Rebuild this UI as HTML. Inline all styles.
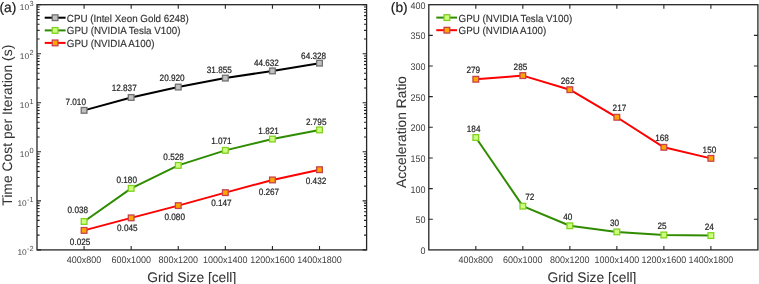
<!DOCTYPE html>
<html><head><meta charset="utf-8"><style>
html,body{margin:0;padding:0;background:#fff;width:759px;height:284px;overflow:hidden}
svg{display:block;font-family:"Liberation Sans",sans-serif;filter:blur(0.35px);text-rendering:geometricPrecision}
.dl{fill:#262626;stroke:#262626;stroke-width:0.2px}
.tk{fill:#404040}
.yt{fill:#484848}
.ax{fill:#333;stroke:#333;stroke-width:0.05px}
.lg{fill:#333;stroke:#333;stroke-width:0.15px;letter-spacing:0.0px}
.pl{fill:#1a1a1a;stroke:#1a1a1a;stroke-width:0.2px}
</style></head><body>
<svg width="759" height="284" viewBox="0 0 759 284">
<rect width="759" height="284" fill="#fff"/>
<rect x="37.0" y="4.7" width="329.60" height="245.20" fill="none" stroke="#262626" stroke-width="1.3"/>
<rect x="428.8" y="4.7" width="329.10" height="245.20" fill="none" stroke="#262626" stroke-width="1.3"/>
<path d="M84.09,249.9v-4.0M84.09,4.7v4.0M131.17,249.9v-4.0M131.17,4.7v4.0M178.26,249.9v-4.0M178.26,4.7v4.0M225.34,249.9v-4.0M225.34,4.7v4.0M272.43,249.9v-4.0M272.43,4.7v4.0M319.51,249.9v-4.0M319.51,4.7v4.0M37.0,249.90h4.0M366.6,249.90h-4.0M37.0,235.14h2.6M366.6,235.14h-2.6M37.0,226.50h2.6M366.6,226.50h-2.6M37.0,220.37h2.6M366.6,220.37h-2.6M37.0,215.62h2.6M366.6,215.62h-2.6M37.0,211.74h2.6M366.6,211.74h-2.6M37.0,208.46h2.6M366.6,208.46h-2.6M37.0,205.61h2.6M366.6,205.61h-2.6M37.0,203.10h2.6M366.6,203.10h-2.6M37.0,200.86h4.0M366.6,200.86h-4.0M37.0,186.10h2.6M366.6,186.10h-2.6M37.0,177.46h2.6M366.6,177.46h-2.6M37.0,171.33h2.6M366.6,171.33h-2.6M37.0,166.58h2.6M366.6,166.58h-2.6M37.0,162.70h2.6M366.6,162.70h-2.6M37.0,159.42h2.6M366.6,159.42h-2.6M37.0,156.57h2.6M366.6,156.57h-2.6M37.0,154.06h2.6M366.6,154.06h-2.6M37.0,151.82h4.0M366.6,151.82h-4.0M37.0,137.06h2.6M366.6,137.06h-2.6M37.0,128.42h2.6M366.6,128.42h-2.6M37.0,122.29h2.6M366.6,122.29h-2.6M37.0,117.54h2.6M366.6,117.54h-2.6M37.0,113.66h2.6M366.6,113.66h-2.6M37.0,110.38h2.6M366.6,110.38h-2.6M37.0,107.53h2.6M366.6,107.53h-2.6M37.0,105.02h2.6M366.6,105.02h-2.6M37.0,102.78h4.0M366.6,102.78h-4.0M37.0,88.02h2.6M366.6,88.02h-2.6M37.0,79.38h2.6M366.6,79.38h-2.6M37.0,73.25h2.6M366.6,73.25h-2.6M37.0,68.50h2.6M366.6,68.50h-2.6M37.0,64.62h2.6M366.6,64.62h-2.6M37.0,61.34h2.6M366.6,61.34h-2.6M37.0,58.49h2.6M366.6,58.49h-2.6M37.0,55.98h2.6M366.6,55.98h-2.6M37.0,53.74h4.0M366.6,53.74h-4.0M37.0,38.98h2.6M366.6,38.98h-2.6M37.0,30.34h2.6M366.6,30.34h-2.6M37.0,24.21h2.6M366.6,24.21h-2.6M37.0,19.46h2.6M366.6,19.46h-2.6M37.0,15.58h2.6M366.6,15.58h-2.6M37.0,12.30h2.6M366.6,12.30h-2.6M37.0,9.45h2.6M366.6,9.45h-2.6M37.0,6.94h2.6M366.6,6.94h-2.6M37.0,4.70h4.0M366.6,4.70h-4.0M475.81,249.9v-4.0M475.81,4.7v4.0M522.83,249.9v-4.0M522.83,4.7v4.0M569.84,249.9v-4.0M569.84,4.7v4.0M616.86,249.9v-4.0M616.86,4.7v4.0M663.87,249.9v-4.0M663.87,4.7v4.0M710.89,249.9v-4.0M710.89,4.7v4.0M428.8,219.25h4.0M757.9,219.25h-4.0M428.8,188.60h4.0M757.9,188.60h-4.0M428.8,157.95h4.0M757.9,157.95h-4.0M428.8,127.30h4.0M757.9,127.30h-4.0M428.8,96.65h4.0M757.9,96.65h-4.0M428.8,66.00h4.0M757.9,66.00h-4.0M428.8,35.35h4.0M757.9,35.35h-4.0" stroke="#262626" stroke-width="1.1" fill="none"/>
<text x="33.60" y="250.90" font-size="7.4" text-anchor="end" class="yt">-2</text>
<text x="26.72" y="254.70" font-size="8.4" text-anchor="end" class="yt">10</text>
<text x="33.60" y="201.86" font-size="7.4" text-anchor="end" class="yt">-1</text>
<text x="26.72" y="205.66" font-size="8.4" text-anchor="end" class="yt">10</text>
<text x="33.60" y="152.82" font-size="7.4" text-anchor="end" class="yt">0</text>
<text x="29.19" y="156.62" font-size="8.4" text-anchor="end" class="yt">10</text>
<text x="33.60" y="103.78" font-size="7.4" text-anchor="end" class="yt">1</text>
<text x="29.19" y="107.58" font-size="8.4" text-anchor="end" class="yt">10</text>
<text x="33.60" y="54.74" font-size="7.4" text-anchor="end" class="yt">2</text>
<text x="29.19" y="58.54" font-size="8.4" text-anchor="end" class="yt">10</text>
<text x="33.60" y="5.70" font-size="7.4" text-anchor="end" class="yt">3</text>
<text x="29.19" y="9.50" font-size="8.4" text-anchor="end" class="yt">10</text>
<text transform="translate(425.60,253.90) scale(1,1.06)" font-size="9.0" text-anchor="end" class="tk">0</text>
<text transform="translate(425.60,223.25) scale(1,1.06)" font-size="9.0" text-anchor="end" class="tk">50</text>
<text transform="translate(425.60,192.60) scale(1,1.06)" font-size="9.0" text-anchor="end" class="tk">100</text>
<text transform="translate(425.60,161.95) scale(1,1.06)" font-size="9.0" text-anchor="end" class="tk">150</text>
<text transform="translate(425.60,131.30) scale(1,1.06)" font-size="9.0" text-anchor="end" class="tk">200</text>
<text transform="translate(425.60,100.65) scale(1,1.06)" font-size="9.0" text-anchor="end" class="tk">250</text>
<text transform="translate(425.60,70.00) scale(1,1.06)" font-size="9.0" text-anchor="end" class="tk">300</text>
<text transform="translate(425.60,39.35) scale(1,1.06)" font-size="9.0" text-anchor="end" class="tk">350</text>
<text transform="translate(425.60,8.70) scale(1,1.06)" font-size="9.0" text-anchor="end" class="tk">400</text>
<text transform="translate(84.09,262.82) scale(1,1.06)" font-size="9.0" text-anchor="middle" class="tk">400x800</text>
<text transform="translate(475.81,262.82) scale(1,1.06)" font-size="9.0" text-anchor="middle" class="tk">400x800</text>
<text transform="translate(131.17,262.82) scale(1,1.06)" font-size="9.0" text-anchor="middle" class="tk">600x1000</text>
<text transform="translate(522.83,262.82) scale(1,1.06)" font-size="9.0" text-anchor="middle" class="tk">600x1000</text>
<text transform="translate(178.26,262.82) scale(1,1.06)" font-size="9.0" text-anchor="middle" class="tk">800x1200</text>
<text transform="translate(569.84,262.82) scale(1,1.06)" font-size="9.0" text-anchor="middle" class="tk">800x1200</text>
<text transform="translate(225.34,262.82) scale(1,1.06)" font-size="9.0" text-anchor="middle" class="tk">1000x1400</text>
<text transform="translate(616.86,262.82) scale(1,1.06)" font-size="9.0" text-anchor="middle" class="tk">1000x1400</text>
<text transform="translate(272.43,262.82) scale(1,1.06)" font-size="9.0" text-anchor="middle" class="tk">1200x1600</text>
<text transform="translate(663.87,262.82) scale(1,1.06)" font-size="9.0" text-anchor="middle" class="tk">1200x1600</text>
<text transform="translate(319.51,262.82) scale(1,1.06)" font-size="9.0" text-anchor="middle" class="tk">1400x1800</text>
<text transform="translate(710.89,262.82) scale(1,1.06)" font-size="9.0" text-anchor="middle" class="tk">1400x1800</text>
<polyline points="84.09,110.35 131.17,97.46 178.26,87.06 225.34,78.10 272.43,70.92 319.51,63.14" fill="none" stroke="#000000" stroke-width="2.0" stroke-linejoin="round"/>
<rect x="81.24" y="107.50" width="5.7" height="5.7" fill="#c0c0c0" stroke="#707070" stroke-width="1.3"/>
<rect x="128.32" y="94.61" width="5.7" height="5.7" fill="#c0c0c0" stroke="#707070" stroke-width="1.3"/>
<rect x="175.41" y="84.21" width="5.7" height="5.7" fill="#c0c0c0" stroke="#707070" stroke-width="1.3"/>
<rect x="222.49" y="75.25" width="5.7" height="5.7" fill="#c0c0c0" stroke="#707070" stroke-width="1.3"/>
<rect x="269.58" y="68.07" width="5.7" height="5.7" fill="#c0c0c0" stroke="#707070" stroke-width="1.3"/>
<rect x="316.66" y="60.29" width="5.7" height="5.7" fill="#c0c0c0" stroke="#707070" stroke-width="1.3"/>
<polyline points="84.09,221.47 131.17,188.34 178.26,165.42 225.34,150.36 272.43,139.05 319.51,129.93" fill="none" stroke="#2f8c00" stroke-width="2.0" stroke-linejoin="round"/>
<rect x="81.24" y="218.62" width="5.7" height="5.7" fill="#ccff80" stroke="#80d020" stroke-width="1.3"/>
<rect x="128.32" y="185.49" width="5.7" height="5.7" fill="#ccff80" stroke="#80d020" stroke-width="1.3"/>
<rect x="175.41" y="162.57" width="5.7" height="5.7" fill="#ccff80" stroke="#80d020" stroke-width="1.3"/>
<rect x="222.49" y="147.51" width="5.7" height="5.7" fill="#ccff80" stroke="#80d020" stroke-width="1.3"/>
<rect x="269.58" y="136.20" width="5.7" height="5.7" fill="#ccff80" stroke="#80d020" stroke-width="1.3"/>
<rect x="316.66" y="127.08" width="5.7" height="5.7" fill="#ccff80" stroke="#80d020" stroke-width="1.3"/>
<polyline points="84.09,230.39 131.17,217.87 178.26,205.61 225.34,192.65 272.43,179.94 319.51,169.70" fill="none" stroke="#ff0000" stroke-width="2.0" stroke-linejoin="round"/>
<rect x="81.24" y="227.54" width="5.7" height="5.7" fill="#ffa500" stroke="#c8424e" stroke-width="1.3"/>
<rect x="128.32" y="215.02" width="5.7" height="5.7" fill="#ffa500" stroke="#c8424e" stroke-width="1.3"/>
<rect x="175.41" y="202.76" width="5.7" height="5.7" fill="#ffa500" stroke="#c8424e" stroke-width="1.3"/>
<rect x="222.49" y="189.80" width="5.7" height="5.7" fill="#ffa500" stroke="#c8424e" stroke-width="1.3"/>
<rect x="269.58" y="177.09" width="5.7" height="5.7" fill="#ffa500" stroke="#c8424e" stroke-width="1.3"/>
<rect x="316.66" y="166.85" width="5.7" height="5.7" fill="#ffa500" stroke="#c8424e" stroke-width="1.3"/>
<polyline points="475.81,79.27 522.83,75.59 569.84,89.69 616.86,117.28 663.87,147.32 710.89,158.35" fill="none" stroke="#ff0000" stroke-width="2.0" stroke-linejoin="round"/>
<rect x="472.96" y="76.42" width="5.7" height="5.7" fill="#ffa500" stroke="#c8424e" stroke-width="1.3"/>
<rect x="519.98" y="72.75" width="5.7" height="5.7" fill="#ffa500" stroke="#c8424e" stroke-width="1.3"/>
<rect x="566.99" y="86.84" width="5.7" height="5.7" fill="#ffa500" stroke="#c8424e" stroke-width="1.3"/>
<rect x="614.01" y="114.43" width="5.7" height="5.7" fill="#ffa500" stroke="#c8424e" stroke-width="1.3"/>
<rect x="661.02" y="144.47" width="5.7" height="5.7" fill="#ffa500" stroke="#c8424e" stroke-width="1.3"/>
<rect x="708.04" y="155.50" width="5.7" height="5.7" fill="#ffa500" stroke="#c8424e" stroke-width="1.3"/>
<polyline points="475.81,137.51 522.83,206.16 569.84,225.78 616.86,231.91 663.87,234.98 710.89,235.59" fill="none" stroke="#2f8c00" stroke-width="2.0" stroke-linejoin="round"/>
<rect x="472.96" y="134.66" width="5.7" height="5.7" fill="#ccff80" stroke="#80d020" stroke-width="1.3"/>
<rect x="519.98" y="203.31" width="5.7" height="5.7" fill="#ccff80" stroke="#80d020" stroke-width="1.3"/>
<rect x="566.99" y="222.93" width="5.7" height="5.7" fill="#ccff80" stroke="#80d020" stroke-width="1.3"/>
<rect x="614.01" y="229.06" width="5.7" height="5.7" fill="#ccff80" stroke="#80d020" stroke-width="1.3"/>
<rect x="661.02" y="232.13" width="5.7" height="5.7" fill="#ccff80" stroke="#80d020" stroke-width="1.3"/>
<rect x="708.04" y="232.74" width="5.7" height="5.7" fill="#ccff80" stroke="#80d020" stroke-width="1.3"/>
<text transform="translate(75.70,104.59) scale(1,1.12)" font-size="8.2" text-anchor="middle" class="dl">7.010</text>
<text transform="translate(124.20,91.29) scale(1,1.12)" font-size="8.2" text-anchor="middle" class="dl">12.837</text>
<text transform="translate(172.10,81.49) scale(1,1.12)" font-size="8.2" text-anchor="middle" class="dl">20.920</text>
<text transform="translate(219.30,72.59) scale(1,1.12)" font-size="8.2" text-anchor="middle" class="dl">31.855</text>
<text transform="translate(266.40,65.69) scale(1,1.12)" font-size="8.2" text-anchor="middle" class="dl">44.632</text>
<text transform="translate(313.60,58.59) scale(1,1.12)" font-size="8.2" text-anchor="middle" class="dl">64.328</text>
<text transform="translate(77.80,213.09) scale(1,1.12)" font-size="8.2" text-anchor="middle" class="dl">0.038</text>
<text transform="translate(126.70,183.09) scale(1,1.12)" font-size="8.2" text-anchor="middle" class="dl">0.180</text>
<text transform="translate(173.60,159.59) scale(1,1.12)" font-size="8.2" text-anchor="middle" class="dl">0.528</text>
<text transform="translate(221.40,143.99) scale(1,1.12)" font-size="8.2" text-anchor="middle" class="dl">1.071</text>
<text transform="translate(268.60,134.29) scale(1,1.12)" font-size="8.2" text-anchor="middle" class="dl">1.821</text>
<text transform="translate(316.20,125.49) scale(1,1.12)" font-size="8.2" text-anchor="middle" class="dl">2.795</text>
<text transform="translate(80.10,245.29) scale(1,1.12)" font-size="8.2" text-anchor="middle" class="dl">0.025</text>
<text transform="translate(127.30,231.29) scale(1,1.12)" font-size="8.2" text-anchor="middle" class="dl">0.045</text>
<text transform="translate(174.70,220.19) scale(1,1.12)" font-size="8.2" text-anchor="middle" class="dl">0.080</text>
<text transform="translate(221.40,206.49) scale(1,1.12)" font-size="8.2" text-anchor="middle" class="dl">0.147</text>
<text transform="translate(268.90,195.29) scale(1,1.12)" font-size="8.2" text-anchor="middle" class="dl">0.267</text>
<text transform="translate(316.00,184.29) scale(1,1.12)" font-size="8.2" text-anchor="middle" class="dl">0.432</text>
<text transform="translate(473.30,73.29) scale(1,1.12)" font-size="8.2" text-anchor="middle" class="dl">279</text>
<text transform="translate(520.40,70.09) scale(1,1.12)" font-size="8.2" text-anchor="middle" class="dl">285</text>
<text transform="translate(567.60,84.29) scale(1,1.12)" font-size="8.2" text-anchor="middle" class="dl">262</text>
<text transform="translate(619.40,111.09) scale(1,1.12)" font-size="8.2" text-anchor="middle" class="dl">217</text>
<text transform="translate(662.00,141.49) scale(1,1.12)" font-size="8.2" text-anchor="middle" class="dl">168</text>
<text transform="translate(709.40,152.69) scale(1,1.12)" font-size="8.2" text-anchor="middle" class="dl">150</text>
<text transform="translate(473.60,131.79) scale(1,1.12)" font-size="8.2" text-anchor="middle" class="dl">184</text>
<text transform="translate(529.80,200.19) scale(1,1.12)" font-size="8.2" text-anchor="middle" class="dl">72</text>
<text transform="translate(567.70,219.89) scale(1,1.12)" font-size="8.2" text-anchor="middle" class="dl">40</text>
<text transform="translate(614.60,226.09) scale(1,1.12)" font-size="8.2" text-anchor="middle" class="dl">30</text>
<text transform="translate(662.00,229.39) scale(1,1.12)" font-size="8.2" text-anchor="middle" class="dl">25</text>
<text transform="translate(709.20,230.19) scale(1,1.12)" font-size="8.2" text-anchor="middle" class="dl">24</text>
<path d="M44.7,17.70H65.6" stroke="#000000" stroke-width="2"/>
<rect x="52.25" y="14.85" width="5.7" height="5.7" fill="#c0c0c0" stroke="#707070" stroke-width="1.3"/>
<text transform="translate(66.80,21.71) scale(1,1.05)" font-size="9.8" text-anchor="start" class="lg">CPU (Intel Xeon Gold 6248)</text>
<path d="M44.7,30.40H65.6" stroke="#2f8c00" stroke-width="2"/>
<rect x="52.25" y="27.55" width="5.7" height="5.7" fill="#ccff80" stroke="#80d020" stroke-width="1.3"/>
<text transform="translate(66.80,34.41) scale(1,1.05)" font-size="9.8" text-anchor="start" class="lg">GPU (NVIDIA Tesla V100)</text>
<path d="M44.7,42.90H65.6" stroke="#ff0000" stroke-width="2"/>
<rect x="52.25" y="40.05" width="5.7" height="5.7" fill="#ffa500" stroke="#c8424e" stroke-width="1.3"/>
<text transform="translate(66.80,46.91) scale(1,1.05)" font-size="9.8" text-anchor="start" class="lg">GPU (NVIDIA A100)</text>
<path d="M436.3,17.60H457" stroke="#2f8c00" stroke-width="2"/>
<rect x="444.05" y="14.75" width="5.7" height="5.7" fill="#ccff80" stroke="#80d020" stroke-width="1.3"/>
<text transform="translate(458.60,21.61) scale(1,1.05)" font-size="9.8" text-anchor="start" class="lg">GPU (NVIDIA Tesla V100)</text>
<path d="M436.3,30.20H457" stroke="#ff0000" stroke-width="2"/>
<rect x="444.05" y="27.35" width="5.7" height="5.7" fill="#ffa500" stroke="#c8424e" stroke-width="1.3"/>
<text transform="translate(458.60,34.21) scale(1,1.05)" font-size="9.8" text-anchor="start" class="lg">GPU (NVIDIA A100)</text>
<text transform="translate(12.3,125.2) rotate(-90)" font-size="13.8" text-anchor="middle" class="ax" letter-spacing="0.05">Time Cost per Iteration (s)</text>
<text transform="translate(405.9,132) rotate(-90)" font-size="13.8" text-anchor="middle" class="ax">Acceleration Ratio</text>
<text x="191.80" y="281.70" font-size="13.8" text-anchor="middle" class="ax">Grid Size [cell]</text>
<text x="591.90" y="281.70" font-size="13.8" text-anchor="middle" class="ax">Grid Size [cell]</text>
<text x="-0.50" y="12.00" font-size="13.8" text-anchor="start" class="pl">(a)</text>
<text x="390.80" y="12.30" font-size="13.8" text-anchor="start" class="pl">(b)</text>
</svg></body></html>
